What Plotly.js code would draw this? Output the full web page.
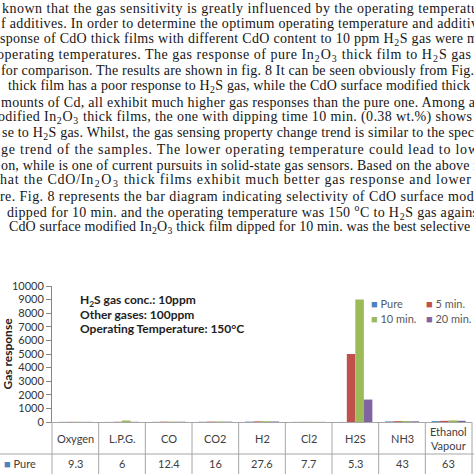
<!DOCTYPE html>
<html>
<head>
<meta charset="utf-8">
<script src="https://cdn.plot.ly/plotly-3.0.1.min.js"></script>
<style>
  html, body { margin: 0; padding: 0; background: #fff; }
  #chart { width: 474px; height: 474px; }
</style>
</head>
<body>
<div id="chart"></div>
<script>
// data
const gases = ['Oxygen', 'L.P.G.', 'CO', 'CO2', 'H2', 'Cl2', 'H2S', 'NH3', 'Ethanol Vapour'];
const gasLabels = ['Oxygen', 'L.P.G.', 'CO', 'CO2', 'H2', 'Cl2', 'H2S', 'NH3', 'Ethanol<br>Vapour'];
const seriesNames = ['Pure', '5 min.', '10 min.', '20 min.'];
const pure  = [9.3, 6, 12.4, 16, 27.6, 7.7, 5.3, 43, 63];
const min5  = [14, 18, 25, 30, 45, 12, 5000, 60, 85];
const min10 = [20, 110, 32, 40, 62, 16, 9000, 75, 120];
const min20 = [11, 15, 20, 24, 38, 10, 1650, 52, 90];
const yTicks = [0, 1000, 2000, 3000, 4000, 5000, 6000, 7000, 8000, 9000, 10000];
const noteLines = ['H<sub>2</sub>S gas conc.: 10ppm', 'Other gases: 100ppm', 'Operating Temperature: 150°C'];

// the page text above the figure (cut at both sides like the scan)
const paraLines = [
  'known that the gas sensitivity is greatly influenced by the operating temperatu',
  'f additives. In order to determine the optimum operating temperature and additiv',
  'sponse of CdO thick films with different CdO content to 10 ppm H<sub>2</sub>S gas were m',
  'operating temperatures. The gas response of pure In<sub>2</sub>O<sub>3</sub> thick film to H<sub>2</sub>S gas',
  'for comparison. The results are shown in fig. 8 It can be seen obviously from Fig.',
  'thick film has a poor response to H<sub>2</sub>S gas, while the CdO surface modified thick',
  'mounts of Cd, all exhibit much higher gas responses than the pure one. Among a',
  'odified In<sub>2</sub>O<sub>3</sub> thick films, the one with dipping time 10 min. (0.38 wt.%) shows',
  'se to H<sub>2</sub>S gas. Whilst, the gas sensing property change trend is similar to the speci',
  'ge trend of the samples. The lower operating temperature could lead to low',
  'on, while is one of current pursuits in solid-state gas sensors. Based on the above r',
  'hat the CdO/In<sub>2</sub>O<sub>3</sub> thick films exhibit much better gas response and lower',
  're. Fig. 8 represents the bar diagram indicating selectivity of CdO surface modi',
  'dipped for 10 min. and the operating temperature was 150 <sup>o</sup>C to H<sub>2</sub>S gas agains',
  'CdO surface modified In<sub>2</sub>O<sub>3</sub> thick film dipped for 10 min. was the best selective t'
];
// left / right pixel extent of each justified line
const paraSpan = [
  [1, 477], [0, 477], [-1, 477], [-4, 470], [0, 473], [7, 469], [0, 474], [-3, 471],
  [1, 477], [0, 477], [0, 477], [-1, 470], [-1, 477], [6, 477], [8, 477]
];

const colors = ['#4F81BD', '#C0504D', '#9BBB59', '#8064A2'];
const seriesData = [pure, min5, min10, min20];

const W = 474, H = 474, L = 52, R = 2, T = 286, B = 52;
const pw = W - L - R, ph = H - T - B;
const px2x = px => (px - L) / pw;
const py2y = py => (T + ph - py) / ph;

const traces = seriesNames.map((name, i) => ({
  type: 'bar',
  name: name,
  x: gases,
  y: seriesData[i],
  marker: { color: colors[i] },
  showlegend: false,
  hoverinfo: 'skip'
}));

let annotations = [];
paraLines.forEach((t, i) => {
  annotations.push({
    xref: 'paper', yref: 'paper',
    x: px2x(paraSpan[i][0]), y: py2y(8 + 15.7 * i),
    xanchor: 'left', yanchor: 'middle', align: 'left',
    text: t, showarrow: false, borderpad: 0,
    font: { family: 'Liberation Serif', size: 14, color: '#151515' }
  });
});

noteLines.forEach((t, i) => {
  annotations.push({
    xref: 'paper', yref: 'paper',
    x: px2x(79), y: py2y(300 + 14 * i),
    xanchor: 'left', yanchor: 'middle', align: 'left',
    text: '<b>' + t + '</b>', showarrow: false, borderpad: 0,
    font: { family: 'Lato', size: 12, color: '#222' }
  });
});

// legend, two columns
const legPos = [[370, 303], [425, 303], [370, 318], [425, 318]];
seriesNames.forEach((name, i) => {
  annotations.push({
    xref: 'paper', yref: 'paper',
    x: px2x(legPos[i][0]), y: py2y(legPos[i][1]),
    xanchor: 'left', yanchor: 'middle', align: 'left',
    text: '<span style="color:' + colors[i] + '">■</span> ' + name,
    showarrow: false, borderpad: 0,
    font: { family: 'Lato', size: 11, color: '#595959' }
  });
});

// data table under the axis
gases.forEach((g, i) => {
  annotations.push({
    xref: 'x', yref: 'paper', x: g, y: py2y(438),
    xanchor: 'center', yanchor: 'middle',
    text: gasLabels[i], showarrow: false,
    font: { family: 'Lato', size: 11, color: '#404040' }
  });
  annotations.push({
    xref: 'x', yref: 'paper', x: g, y: py2y(463),
    xanchor: 'center', yanchor: 'middle',
    text: String(pure[i]), showarrow: false,
    font: { family: 'Lato', size: 11, color: '#404040' }
  });
});
annotations.push({
  xref: 'paper', yref: 'paper', x: px2x(3), y: py2y(463),
  xanchor: 'left', yanchor: 'middle', align: 'left',
  text: '<span style="color:' + colors[0] + '">■</span> ' + seriesNames[0],
  showarrow: false, borderpad: 0,
  font: { family: 'Lato', size: 11, color: '#404040' }
});

let shapes = [];
for (let i = 0; i <= gases.length; i++) {
  shapes.push({
    type: 'line', xref: 'paper', yref: 'paper',
    x0: i / gases.length, x1: i / gases.length,
    y0: 0, y1: py2y(476),
    line: { color: '#a6a6a6', width: 1 }
  });
}
shapes.push({
  type: 'line', xref: 'paper', yref: 'paper',
  x0: px2x(0), x1: px2x(474), y0: py2y(454), y1: py2y(454),
  line: { color: '#a6a6a6', width: 1 }
});

const layout = {
  width: W, height: H,
  margin: { l: L, r: R, t: T, b: B, pad: 0 },
  paper_bgcolor: '#fff', plot_bgcolor: '#fff',
  barmode: 'group', bargap: 0.27, bargroupgap: 0,
  xaxis: {
    type: 'category', range: [-0.5, gases.length - 0.5],
    showticklabels: false, ticks: '', showgrid: false, zeroline: false,
    showline: true, linecolor: '#a6a6a6', linewidth: 1, fixedrange: true
  },
  yaxis: {
    range: [0, 10000], tickvals: yTicks, ticktext: yTicks.map(String),
    ticks: 'outside', ticklen: 5, tickcolor: '#868686',
    showline: true, linecolor: '#868686', linewidth: 1,
    showgrid: false, zeroline: false, automargin: false, fixedrange: true,
    tickfont: { family: 'Lato', size: 11, color: '#333' },
    title: { text: '<b>Gas response</b>', standoff: 4, font: { family: 'Lato', size: 12, color: '#222' } }
  },
  annotations: annotations,
  shapes: shapes
};

Plotly.newPlot('chart', traces, layout, { displayModeBar: false, staticPlot: true }).then(gd => {
  // justify the page text like the scanned column
  paraLines.forEach((t, i) => {
    const el = gd.querySelector('.annotation[data-index="' + i + '"] text');
    if (el) {
      el.setAttribute('textLength', paraSpan[i][1] - paraSpan[i][0]);
      el.setAttribute('lengthAdjust', 'spacing');
    }
  });
});
</script>
</body>
</html>
